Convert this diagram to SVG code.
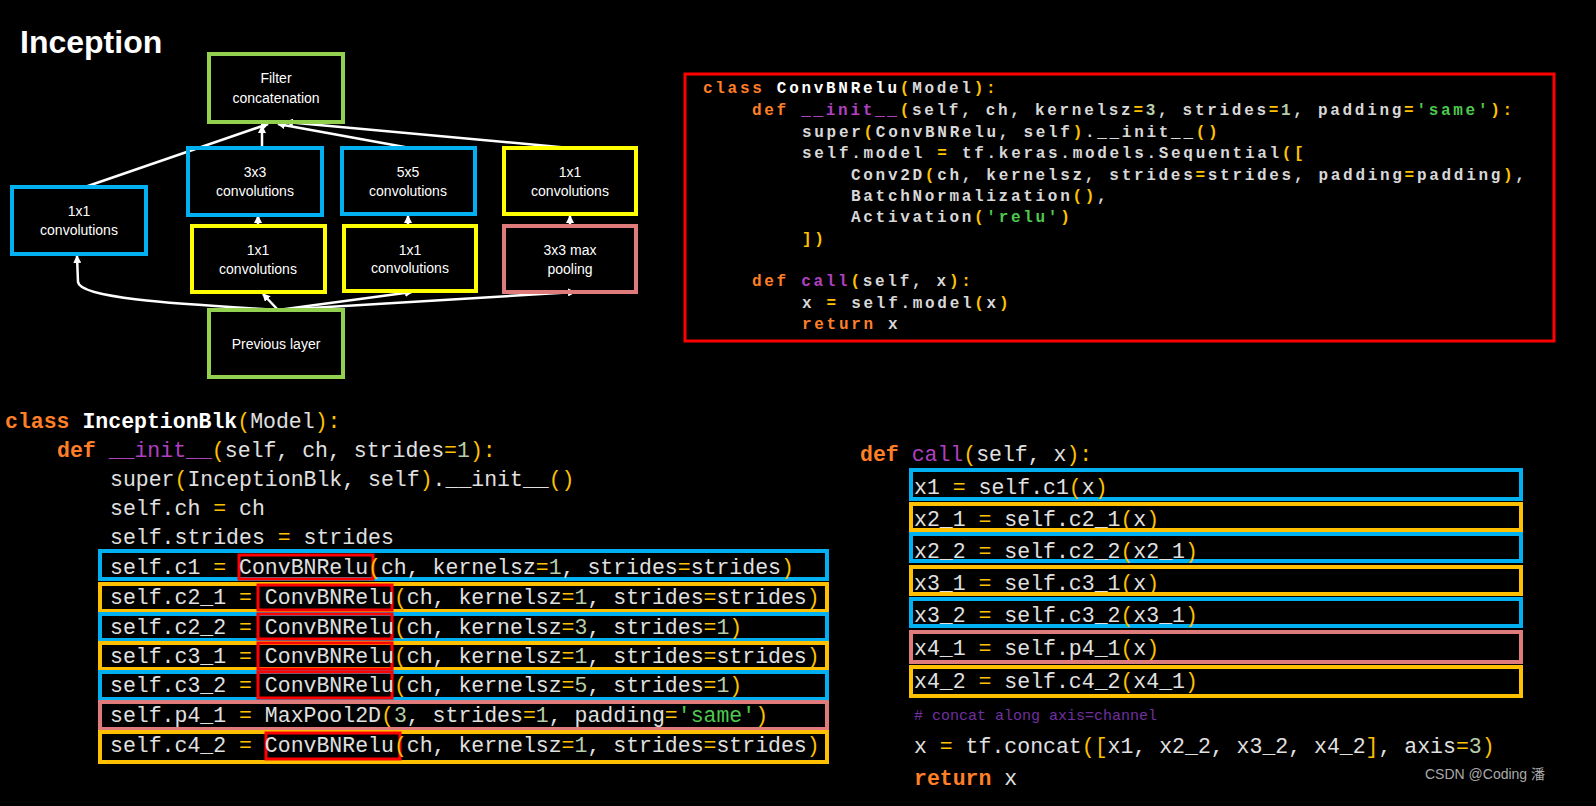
<svg xmlns="http://www.w3.org/2000/svg" width="1596" height="806" viewBox="0 0 1596 806">
<style>
.bx{fill:none;stroke-width:4}
.lbl{font-family:"Liberation Sans",Arial,sans-serif;font-size:14px;fill:#fff;text-anchor:middle}
.c1{font-family:"Liberation Mono",monospace;font-size:21.5px;fill:#e0e0e0;white-space:pre}
.c2{font-family:"Liberation Mono",monospace;font-size:16px;font-weight:bold;letter-spacing:2.7px;fill:#d8d8d8;white-space:pre}
.k{fill:#ff7f27;font-weight:bold}.p{fill:#ffc000}.m{fill:#b040c0}.n{fill:#b5cea8}.s{fill:#4ec94e}.w{fill:#fff;font-weight:bold}
.cn{fill:none;stroke:#fff;stroke-width:2.5;marker-end:url(#ah)}
</style>
<defs><marker id="ah" markerWidth="8" markerHeight="8" refX="7" refY="4" orient="auto" markerUnits="userSpaceOnUse"><path d="M0,0 L8,4 L0,8 z" fill="#fff"/></marker></defs>
<rect width="1596" height="806" fill="#000"/>
<text x="20" y="53" font-family="Liberation Sans,Arial,sans-serif" font-size="32" font-weight="bold" fill="#fff">Inception</text>
<g id="connectors">
<path class="cn" d="M85,187 L268,124"/>
<path class="cn" d="M262,148 L262,126"/>
<path class="cn" d="M410,148 L278,124"/>
<path class="cn" d="M570,148 L286,122"/>
<path class="cn" d="M258,226 L258,216"/>
<path class="cn" d="M408,226 L408,216"/>
<path class="cn" d="M570,226 L570,216"/>
<path class="cn" d="M280,310 C200,305 80,300 78,282 L77,256"/>
<path class="cn" d="M278,310 L263,294"/>
<path class="cn" d="M278,310 L412,292"/>
<path class="cn" d="M278,310 L575,292"/>
</g>
<g id="n-concat"><rect class="bx" x="209" y="54" width="134" height="68" stroke="#92d050"/><text class="lbl" x="276" y="83">Filter</text><text class="lbl" x="276" y="103">concatenation</text></g>
<g id="n-c1"><rect class="bx" x="12" y="187" width="134" height="67" stroke="#00b0f0"/><text class="lbl" x="79" y="216">1x1</text><text class="lbl" x="79" y="235">convolutions</text></g>
<g id="n-c33"><rect class="bx" x="188" y="148" width="134" height="67" stroke="#00b0f0"/><text class="lbl" x="255" y="177">3x3</text><text class="lbl" x="255" y="196">convolutions</text></g>
<g id="n-c21"><rect class="bx" x="192" y="226" width="133" height="66" stroke="#ffff00"/><text class="lbl" x="258" y="255">1x1</text><text class="lbl" x="258" y="274">convolutions</text></g>
<g id="n-c55"><rect class="bx" x="342" y="148" width="133" height="66" stroke="#00b0f0"/><text class="lbl" x="408" y="177">5x5</text><text class="lbl" x="408" y="196">convolutions</text></g>
<g id="n-c31"><rect class="bx" x="344" y="226" width="132" height="65" stroke="#ffff00"/><text class="lbl" x="410" y="255">1x1</text><text class="lbl" x="410" y="273">convolutions</text></g>
<g id="n-c42"><rect class="bx" x="504" y="148" width="132" height="66" stroke="#ffff00"/><text class="lbl" x="570" y="177">1x1</text><text class="lbl" x="570" y="196">convolutions</text></g>
<g id="n-pool"><rect class="bx" x="504" y="226" width="132" height="66" stroke="#e07b7b"/><text class="lbl" x="570" y="255">3x3 max</text><text class="lbl" x="570" y="274">pooling</text></g>
<g id="n-prev"><rect class="bx" x="209" y="310" width="134" height="67" stroke="#92d050"/><text class="lbl" x="276" y="349">Previous layer</text></g>
<g id="convbnrelu">
<rect x="685" y="74" width="869" height="267" fill="none" stroke="#ff0000" stroke-width="3"/>
<text class="c2" x="703" y="93"><tspan class="k">class</tspan> <tspan class="w">ConvBNRelu</tspan><tspan class="p">(</tspan>Model<tspan class="p">):</tspan></text>
<text class="c2" x="752" y="115"><tspan class="k">def</tspan> <tspan class="m">__init__</tspan><tspan class="p">(</tspan>self, ch, kernelsz<tspan class="p">=</tspan><tspan class="n">3</tspan>, strides<tspan class="p">=</tspan><tspan class="n">1</tspan>, padding<tspan class="p">=</tspan><tspan class="s">'same'</tspan><tspan class="p">):</tspan></text>
<text class="c2" x="802" y="137">super<tspan class="p">(</tspan>ConvBNRelu, self<tspan class="p">)</tspan>.__init__<tspan class="p">()</tspan></text>
<text class="c2" x="802" y="158">self.model <tspan class="p">=</tspan> tf.keras.models.Sequential<tspan class="p">([</tspan></text>
<text class="c2" x="851" y="180">Conv2D<tspan class="p">(</tspan>ch, kernelsz, strides<tspan class="p">=</tspan>strides, padding<tspan class="p">=</tspan>padding<tspan class="p">)</tspan>,</text>
<text class="c2" x="851" y="201">BatchNormalization<tspan class="p">()</tspan>,</text>
<text class="c2" x="851" y="222">Activation<tspan class="p">(</tspan><tspan class="s">'relu'</tspan><tspan class="p">)</tspan></text>
<text class="c2" x="802" y="244"><tspan class="p">])</tspan></text>
<text class="c2" x="752" y="286"><tspan class="k">def</tspan> <tspan class="m">call</tspan><tspan class="p">(</tspan>self, x<tspan class="p">):</tspan></text>
<text class="c2" x="802" y="308">x <tspan class="p">=</tspan> self.model<tspan class="p">(</tspan>x<tspan class="p">)</tspan></text>
<text class="c2" x="802" y="329"><tspan class="k">return</tspan> x</text>
</g>
<g id="init-code">
<rect class="bx" x="100" y="551" width="727" height="28" stroke="#00b0f0" stroke-width="3"/>
<rect class="bx" x="100" y="584" width="727" height="27" stroke="#ffc000" stroke-width="3"/>
<rect class="bx" x="100" y="614" width="727" height="26" stroke="#00b0f0" stroke-width="3"/>
<rect class="bx" x="100" y="643" width="727" height="26" stroke="#ffc000" stroke-width="3"/>
<rect class="bx" x="100" y="672" width="727" height="27" stroke="#00b0f0" stroke-width="3"/>
<rect class="bx" x="100" y="702" width="727" height="27" stroke="#e07b7b" stroke-width="3"/>
<rect class="bx" x="100" y="732" width="727" height="30" stroke="#ffc000" stroke-width="3"/>
<g fill="none" stroke="#ff0000" stroke-width="3">
<rect x="239" y="555" width="134" height="24"/><rect x="258" y="585" width="134" height="25"/><rect x="258" y="614" width="134" height="25"/><rect x="258" y="643" width="134" height="26"/><rect x="258" y="672" width="134" height="26"/><rect x="266" y="733" width="134" height="26"/>
</g>
<text class="c1" x="5" y="428"><tspan class="k">class</tspan> <tspan class="w">InceptionBlk</tspan><tspan class="p">(</tspan>Model<tspan class="p">):</tspan></text>
<text class="c1" x="57" y="457"><tspan class="k">def</tspan> <tspan class="m">__init__</tspan><tspan class="p">(</tspan>self, ch, strides<tspan class="p">=</tspan><tspan class="n">1</tspan><tspan class="p">):</tspan></text>
<text class="c1" x="110" y="486">super<tspan class="p">(</tspan>InceptionBlk, self<tspan class="p">)</tspan>.__init__<tspan class="p">()</tspan></text>
<text class="c1" x="110" y="515">self.ch <tspan class="p">=</tspan> ch</text>
<text class="c1" x="110" y="544">self.strides <tspan class="p">=</tspan> strides</text>
<text class="c1" x="110" y="574">self.c1 <tspan class="p">=</tspan> ConvBNRelu<tspan class="p">(</tspan>ch, kernelsz<tspan class="p">=</tspan><tspan class="n">1</tspan>, strides<tspan class="p">=</tspan>strides<tspan class="p">)</tspan></text>
<text class="c1" x="110" y="604">self.c2_1 <tspan class="p">=</tspan> ConvBNRelu<tspan class="p">(</tspan>ch, kernelsz<tspan class="p">=</tspan><tspan class="n">1</tspan>, strides<tspan class="p">=</tspan>strides<tspan class="p">)</tspan></text>
<text class="c1" x="110" y="634">self.c2_2 <tspan class="p">=</tspan> ConvBNRelu<tspan class="p">(</tspan>ch, kernelsz<tspan class="p">=</tspan><tspan class="n">3</tspan>, strides<tspan class="p">=</tspan><tspan class="n">1</tspan><tspan class="p">)</tspan></text>
<text class="c1" x="110" y="663">self.c3_1 <tspan class="p">=</tspan> ConvBNRelu<tspan class="p">(</tspan>ch, kernelsz<tspan class="p">=</tspan><tspan class="n">1</tspan>, strides<tspan class="p">=</tspan>strides<tspan class="p">)</tspan></text>
<text class="c1" x="110" y="692">self.c3_2 <tspan class="p">=</tspan> ConvBNRelu<tspan class="p">(</tspan>ch, kernelsz<tspan class="p">=</tspan><tspan class="n">5</tspan>, strides<tspan class="p">=</tspan><tspan class="n">1</tspan><tspan class="p">)</tspan></text>
<text class="c1" x="110" y="722">self.p4_1 <tspan class="p">=</tspan> MaxPool2D<tspan class="p">(</tspan><tspan class="n">3</tspan>, strides<tspan class="p">=</tspan><tspan class="n">1</tspan>, padding<tspan class="p">=</tspan><tspan class="s">'same'</tspan><tspan class="p">)</tspan></text>
<text class="c1" x="110" y="752">self.c4_2 <tspan class="p">=</tspan> ConvBNRelu<tspan class="p">(</tspan>ch, kernelsz<tspan class="p">=</tspan><tspan class="n">1</tspan>, strides<tspan class="p">=</tspan>strides<tspan class="p">)</tspan></text>
</g>
<g id="call-code">
<rect class="bx" x="911" y="470" width="610" height="29" stroke="#00b0f0" stroke-width="3"/>
<rect class="bx" x="911" y="504" width="610" height="26" stroke="#ffc000" stroke-width="3"/>
<rect class="bx" x="911" y="534" width="610" height="27" stroke="#00b0f0" stroke-width="3"/>
<rect class="bx" x="911" y="567" width="610" height="27" stroke="#ffc000" stroke-width="3"/>
<rect class="bx" x="911" y="599" width="610" height="27" stroke="#00b0f0" stroke-width="3"/>
<rect class="bx" x="911" y="632" width="610" height="30" stroke="#e07b7b" stroke-width="3"/>
<rect class="bx" x="911" y="667" width="610" height="29" stroke="#ffc000" stroke-width="3"/>
<text class="c1" x="860" y="461"><tspan class="k">def</tspan> <tspan class="m">call</tspan><tspan class="p">(</tspan>self, x<tspan class="p">):</tspan></text>
<text class="c1" x="914" y="494">x1 <tspan class="p">=</tspan> self.c1<tspan class="p">(</tspan>x<tspan class="p">)</tspan></text>
<text class="c1" x="914" y="526">x2_1 <tspan class="p">=</tspan> self.c2_1<tspan class="p">(</tspan>x<tspan class="p">)</tspan></text>
<text class="c1" x="914" y="558">x2_2 <tspan class="p">=</tspan> self.c2_2<tspan class="p">(</tspan>x2_1<tspan class="p">)</tspan></text>
<text class="c1" x="914" y="590">x3_1 <tspan class="p">=</tspan> self.c3_1<tspan class="p">(</tspan>x<tspan class="p">)</tspan></text>
<text class="c1" x="914" y="622">x3_2 <tspan class="p">=</tspan> self.c3_2<tspan class="p">(</tspan>x3_1<tspan class="p">)</tspan></text>
<text class="c1" x="914" y="655">x4_1 <tspan class="p">=</tspan> self.p4_1<tspan class="p">(</tspan>x<tspan class="p">)</tspan></text>
<text class="c1" x="914" y="688">x4_2 <tspan class="p">=</tspan> self.c4_2<tspan class="p">(</tspan>x4_1<tspan class="p">)</tspan></text>
<text x="914" y="720" font-family="Liberation Mono,monospace" font-size="15" fill="#7030a0"># concat along axis=channel</text>
<text class="c1" x="914" y="753">x <tspan class="p">=</tspan> tf.concat<tspan class="p">([</tspan>x1, x2_2, x3_2, x4_2<tspan class="p">]</tspan>, axis<tspan class="p">=</tspan><tspan class="n">3</tspan><tspan class="p">)</tspan></text>
<text class="c1" x="914" y="785"><tspan class="k">return</tspan> x</text>
</g>
<text x="1425" y="779" font-family="Liberation Sans,'Noto Sans CJK SC',sans-serif" font-size="14" fill="#aaa">CSDN @Coding 潘</text>
</svg>
